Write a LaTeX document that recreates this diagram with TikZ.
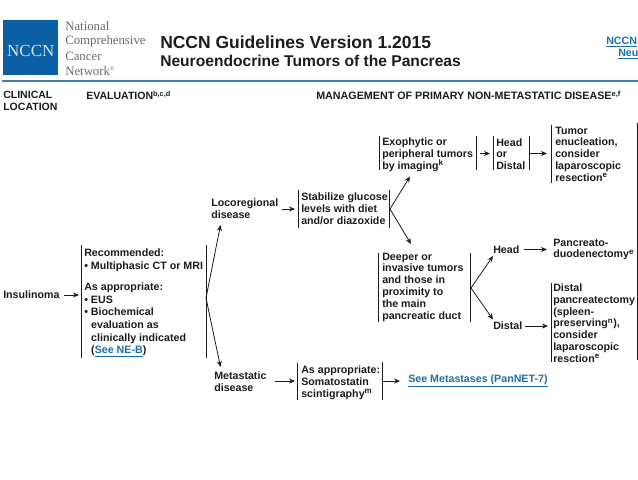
\documentclass[tikz,border=0pt]{standalone}
\usepackage{fontspec}
\setmainfont{Liberation Sans}
\newfontfamily\logofont{Liberation Serif}
\usetikzlibrary{arrows.meta}
\definecolor{ink}{HTML}{1C1C1C}
\definecolor{nccnblue}{HTML}{0B5FA5}
\definecolor{rulecol}{HTML}{3A82B0}
\definecolor{linkcol}{HTML}{1F6EA8}
\definecolor{logotext}{HTML}{6A6A6A}
\tikzset{
  txt/.style={anchor=north west,inner sep=0pt,align=left,text=ink,font=\fontsize{8}{8.85}\selectfont\bfseries},
  head/.style={txt,font=\fontsize{7.9}{9.6}\selectfont\bfseries},
  logotxt/.style={anchor=west,inner sep=0pt,text=logotext,font=\fontsize{9.6}{11}\selectfont\logofont},
  linktxt/.style={txt,text=linkcol},
  barline/.style={draw=ink,line width=0.65pt},
  arr/.style={draw=ink,line width=0.6pt,-{Stealth[length=4.5pt,width=3.8pt]}},
}
\newcommand{\barat}[4]{% name, x, y top, y bottom
  \coordinate (#1-t) at (#2,#3);
  \coordinate (#1-b) at (#2,#4);
  \draw[barline] (#1-t) -- (#1-b);
}
\begin{document}
\begin{tikzpicture}[x=0.75pt,y=-0.75pt]
\useasboundingbox (0,0) rectangle (638,479);
\clip (0,0) rectangle (638,479);
\fill[white] (0,0) rectangle (638,479);
% header
\node[draw=none,fill=nccnblue,minimum width=41.25pt,minimum height=41.25pt,inner sep=0pt,anchor=north west,text=white!85!nccnblue,font=\fontsize{12.7}{14}\selectfont\logofont] (logo) at (3,20) {\raisebox{-12.5pt}{NCCN}};
\node[logotxt] (l1) at (65,26) {National};
\node[logotxt] (l2) at (65,41) {Comprehensive};
\node[logotxt] (l3) at (65,56) {Cancer};
\node[logotxt] (l4) at (65,71) {Network\textsuperscript{\fontsize{4}{4}\selectfont ®}};
\node[anchor=west,inner sep=0pt,text=ink,font=\fontsize{13.1}{15}\selectfont\bfseries] (title) at (160,42) {NCCN Guidelines Version 1.2015};
\node[anchor=west,inner sep=0pt,text=ink,font=\fontsize{11.7}{13}\selectfont\bfseries] (subtitle) at (160,61) {Neuroendocrine Tumors of the Pancreas};
\node[linktxt,anchor=west] (nccnr) at (606,42) {\underline{NCCN}};
\node[linktxt,anchor=west] (neu) at (618,54) {\underline{Neu}};
\coordinate (rule-l) at (2,81);
\coordinate (rule-r) at (638,81);
\draw[rulecol,line width=0.9pt] (rule-l) -- (rule-r);
\node[head] (clin) at (3,90.5) {CLINICAL\\LOCATION};
\node[head] (evalh) at (86,90.5) {EVALUATION\textsuperscript{b,c,d}};
\node[head,font=\fontsize{8.05}{9.6}\selectfont\bfseries] (mgmt) at (316,90.5) {MANAGEMENT OF PRIMARY NON-METASTATIC DISEASE\textsuperscript{e,f}};
% column 1 and 2
\node[txt,anchor=west] (ins) at (3,295) {Insulinoma};
\barat{evL}{81}{245}{358}
\coordinate (evL-m) at (79,295);
\node[txt,font=\fontsize{8}{9.5}\selectfont\bfseries] (rec) at (84,248.5) {Recommended:\\\textbullet\ Multiphasic CT or MRI};
\node[txt,font=\fontsize{8}{9.5}\selectfont\bfseries] (app) at (84,282.5) {As appropriate:\\\textbullet\ EUS\\\textbullet\ Biochemical\\\hspace*{5.2pt}evaluation as\\\hspace*{5.2pt}clinically indicated\\\hspace*{5.2pt}({\color{linkcol}\underline{See NE-B}})};
\barat{evR}{206}{245}{358}
\coordinate (evR-m) at (206,298);
\draw[arr,shorten <=3pt] (ins.east) -- (evL-m);
\node[txt] (loco) at (211,198.5) {Locoregional\\disease};
\node[txt] (meta) at (214,371.5) {Metastatic\\disease};
\coordinate (loco-in) at (220.5,225);
\coordinate (meta-in) at (220.5,367);
\draw[arr] (evR-m) -- (loco-in);
\draw[arr] (evR-m) -- (meta-in);
% stabilize
\barat{stL}{298}{190}{228}
\node[txt] (stab) at (301,192.5) {Stabilize glucose\\levels with diet\\and/or diazoxide};
\barat{stR}{389}{190}{228}
\coordinate (stL-m) at (295,209);
\coordinate (stR-m) at (390,209);
\coordinate (loco-out) at (282,209);
\draw[arr] (loco-out) -- (stL-m);
\coordinate (exo-in) at (410,176.5);
\coordinate (deep-in) at (411,244);
\draw[arr] (stR-m) -- (exo-in);
\draw[arr] (stR-m) -- (deep-in);
% exophytic
\barat{exL}{379}{136}{170}
\node[txt] (exo) at (382,137.5) {Exophytic or\\peripheral tumors\\by imaging\textsuperscript{k}};
\barat{exR}{476}{136}{170}
\coordinate (exR-m) at (480,153.5);
\coordinate (hdL-m) at (490,153.5);
\draw[arr] (exR-m) -- (hdL-m);
\barat{hdL}{493}{136}{170}
\node[txt] (hod) at (496,138) {Head\\or\\Distal};
\barat{hdR}{529}{136}{170}
\coordinate (hdR-m) at (529,153.5);
\coordinate (enL-m) at (547,153.5);
\draw[arr] (hdR-m) -- (enL-m);
\barat{enL}{551}{125}{183}
\node[txt] (enu) at (555,126.5) {Tumor\\enucleation,\\consider\\laparoscopic\\resection\textsuperscript{e}};
% deeper
\barat{deL}{378}{253}{322}
\node[txt] (deep) at (382,252.5) {Deeper or\\invasive tumors\\and those in\\proximity to\\the main\\pancreatic duct};
\barat{deR}{470}{253}{322}
\coordinate (deR-m) at (471,288);
\node[txt,anchor=west] (head2) at (493,249.5) {Head};
\node[txt,anchor=west] (dist2) at (493,326) {Distal};
\coordinate (head2-in) at (493,256);
\coordinate (dist2-in) at (493,319.5);
\draw[arr] (deR-m) -- (head2-in);
\draw[arr] (deR-m) -- (dist2-in);
\node[txt] (pan) at (553,238.5) {Pancreato-\\duodenectomy\textsuperscript{e}};
\coordinate (pan-in) at (547,249.5);
\draw[arr,shorten <=3.5pt] (head2.east) -- (pan-in);
\barat{diL}{551}{283}{362}
\node[txt] (dpan) at (553,283.5) {Distal\\pancreatectomy\\(spleen-\\preserving\textsuperscript{n}),\\consider\\laparoscopic\\resction\textsuperscript{e}};
\coordinate (diL-m) at (548,326);
\draw[arr,shorten <=1.5pt] (dist2.east) -- (diL-m);
% far right bar
\barat{far}{637}{123}{360}
% metastatic row
\barat{soL}{297}{363}{400}
\node[txt] (soma) at (301,365.5) {As appropriate:\\Somatostatin\\scintigraphy\textsuperscript{m}};
\barat{soR}{382}{362}{400}
\coordinate (soL-m) at (295,381);
\coordinate (soR-m) at (382,381);
\coordinate (meta-out) at (275,381);
\draw[arr] (meta-out) -- (soL-m);
\node[linktxt,anchor=west] (see) at (408,381) {\underline{See Metastases (PanNET-7)}};
\draw[arr,shorten >=6pt] (soR-m) -- (see.west);
\end{tikzpicture}
\end{document}
